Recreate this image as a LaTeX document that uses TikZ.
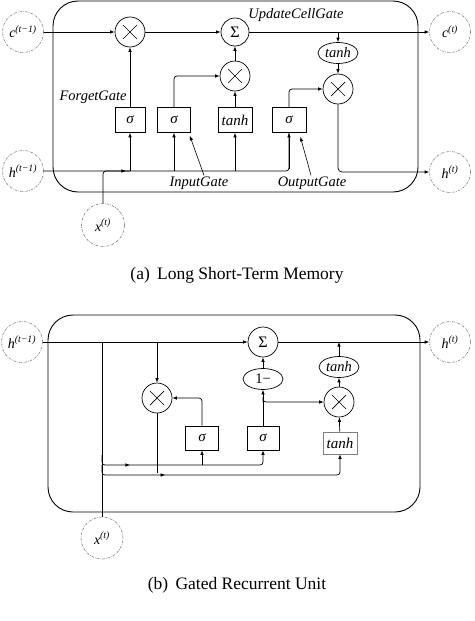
\documentclass[tikz,border=0pt]{standalone}
\usepackage{fontspec}
\setmainfont{Liberation Serif}
\usetikzlibrary{arrows.meta,shapes.geometric,decorations.markings}
\begin{document}
\begin{tikzpicture}[x=1pt,y=-1pt,
  line width=0.7pt,
  mytip/.tip={Latex[length=4.5pt,width=3.6pt]},
  arr/.style={-mytip},
  midarr/.style={postaction={decorate},decoration={markings,mark=at position #1 with {\arrow{mytip}}}},
  io/.style={circle,draw=gray,dash pattern=on 2.5pt off 1.2pt on 0.6pt off 1.2pt,line width=0.6pt,minimum size=41pt,inner sep=0pt,font=\fontsize{14}{14}\selectfont\itshape},
  mult/.style={circle,draw,minimum size=30pt,inner sep=0pt,
    path picture={\draw[line width=0.7pt]
      ([shift={(-7pt,-7pt)}]path picture bounding box.center) -- ([shift={(7pt,7pt)}]path picture bounding box.center)
      ([shift={(-7pt,7pt)}]path picture bounding box.center) -- ([shift={(7pt,-7pt)}]path picture bounding box.center);}},
  sumc/.style={circle,draw,minimum size=28pt,inner sep=0pt,font=\fontsize{16}{16}\selectfont},
  gbox/.style={draw,minimum width=33pt,minimum height=25pt,inner sep=0pt,font=\fontsize{15}{15}\selectfont\itshape},
  ell/.style={ellipse,draw,minimum width=40pt,minimum height=21pt,inner sep=0pt,font=\fontsize{14.5}{14.5}\selectfont\itshape},
  lbl/.style={font=\fontsize{14.5}{14.5}\selectfont\itshape,inner sep=1pt},
  captext/.style={font=\fontsize{17.5}{17.5}\selectfont}
]
\useasboundingbox (0,0) rectangle (474,621);

% ================= LSTM =================
\draw[line width=0.9pt,rounded corners=25pt] (53,1) rectangle (418,192);

\node[io] (cp) at (23,32) {c\textsuperscript{(t−1)}};
\node[io] (hp) at (23,171) {h\textsuperscript{(t−1)}};
\node[io,minimum size=43pt] (xt) at (103,225) {x\textsuperscript{(t)}};
\node[io] (cn) at (450,32) {c\textsuperscript{(t)}};
\node[io] (hn) at (450,172) {h\textsuperscript{(t)}};

\node[mult] (mf) at (130,32) {};
\node[sumc] (sum) at (235,32) {Σ};
\node[mult] (mi) at (235,76) {};
\node[ell] (te) at (338,53) {tanh};
\node[mult] (mo) at (338,89) {};

\node[gbox,minimum width=30pt] (bf) at (130,120) {σ};
\node[gbox] (bi) at (174,120) {σ};
\node[gbox,minimum width=34pt] (bt) at (235,120) {tanh};
\node[gbox,minimum width=34pt] (bo) at (289,120) {σ};

\coordinate (jc) at (338,32);
\coordinate (jf) at (130,171);
\coordinate (ji) at (174,171);
\coordinate (jt) at (235,171);
\coordinate (jo) at (289,171);

\draw[arr] (cp) -- (mf);
\draw[arr] (mf) -- (sum);
\draw[arr] (sum) -- (cn);
\draw[arr] (jc) -- (te);
\draw[arr] (te) -- (mo);
\draw[arr] (bf) -- (mf);
\draw[arr,rounded corners=3pt] (bi.north) |- (mi.west);
\draw[arr] (bt) -- (mi);
\draw[arr] (mi) -- (sum);
\draw[arr,rounded corners=3pt] (bo.north) |- (mo.west);
\draw[arr,rounded corners=4pt] (mo.south) |- (hn.west);

\draw[rounded corners=3pt] (hp.east) -- (jo) -- (bo.south);
\draw[arr] (jo) ++(0,-2) -- (bo.south);
\draw[rounded corners=3pt,midarr=0.93] (xt.north) |- (jf);
\draw[arr] (jf) -- (bf);
\draw[arr] (ji) -- (bi);
\draw[arr] (jt) -- (bt);

\node[lbl,anchor=east] (fg) at (128,97) {ForgetGate};
\node[lbl] (ug) at (296,15) {UpdateCellGate};
\node[lbl] (ig) at (199,183) {InputGate};
\node[lbl] (og) at (312,183) {OutputGate};
\draw[arr,line width=0.6pt] ([xshift=5pt]ig.north) -- ([shift={(-1pt,-3pt)}]bi.south east);
\draw[arr,line width=0.6pt] ([xshift=-1pt]og.north) -- ([shift={(-6pt,-4pt)}]bo.south east);

\node[captext] (capa) at (237,275) {(a)\, Long Short-Term Memory};

% ================= GRU =================
\draw[line width=0.9pt,rounded corners=25pt] (48,315) rectangle (420,512);

\node[io] (hp2) at (22,342) {h\textsuperscript{(t−1)}};
\node[io] (hn2) at (450,342) {h\textsuperscript{(t)}};
\node[io,minimum size=42pt] (xt2) at (102,538) {x\textsuperscript{(t)}};

\node[sumc,minimum size=30pt] (sum2) at (263,342) {Σ};
\node[ell,font=\fontsize{14.5}{14.5}\selectfont] (one) at (263,379) {1−};
\node[ell] (te2) at (339,367) {tanh};
\node[mult] (m1) at (157,398) {};
\node[mult] (m2) at (339,402) {};
\node[gbox,minimum height=24pt] (s1) at (202,438) {σ};
\node[gbox,minimum width=32pt,minimum height=24pt] (s2) at (263,438) {σ};
\node[gbox,draw=gray,minimum width=34pt,minimum height=22pt] (tb) at (340,443) {tanh};

\coordinate (k1) at (102,342);
\coordinate (k2) at (157,342);
\coordinate (k3) at (339,342);
\coordinate (k4) at (263,402);
\coordinate (k5) at (202,465);
\coordinate (k6) at (157,473);
\coordinate (k7) at (263,465);
\coordinate (k8) at (340,475);

\draw[arr] (hp2) -- (sum2);
\draw[arr] (sum2) -- (hn2);
\draw (k1) -- (xt2.north);
\draw[arr] (k2) -- (m1);
\draw[arr,rounded corners=3pt] (s1.north) |- (m1.east);
\draw (m1.south) -- (k6);
\draw[arr,rounded corners=3pt,midarr=0.2] (102,455) |- (k7) -- (s2.south);
\draw[arr] (k5) -- (s1.south);
\draw[arr,rounded corners=3pt,midarr=0.27] (102,465) |- (k8) -- (tb.south);
\draw[arr] (s2) -- (one);
\draw[arr] (one) -- (sum2);
\draw[arr,rounded corners=3pt] (k4) |- (m2.west);
\draw[arr] (tb) -- (m2);
\draw[arr] (m2) -- (te2);
\draw[arr] (te2) -- (k3);

\node[captext] (capb) at (237,585) {(b)\, Gated Recurrent Unit};
\end{tikzpicture}
\end{document}
